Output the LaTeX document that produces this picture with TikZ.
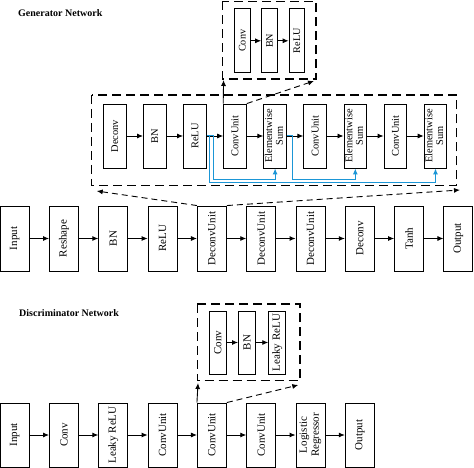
\documentclass[tikz,border=0pt]{standalone}
\usepackage{fontspec}
\setmainfont{Liberation Serif}
\usepackage{graphicx}
\usetikzlibrary{arrows.meta,calc}
\definecolor{skyblue}{RGB}{27,150,214}
\newcommand{\rt}[1]{\rotatebox{90}{#1}}
\newcommand{\rtt}[3][0pt]{\rotatebox{90}{\begin{tabular}{@{}c@{}}#2\\[#1]#3\end{tabular}}}
\tikzset{
  bx/.style={draw, line width=0.9pt, inner sep=0pt, font=\fontsize{11}{12}\selectfont},
  mainbx/.style={bx, minimum width=29pt, minimum height=65pt},
  midbx/.style={bx, minimum width=22.7pt, minimum height=64pt, font=\fontsize{10.4}{11.5}\selectfont},
  topbx/.style={bx, minimum width=15.7pt, minimum height=63.7pt, font=\fontsize{10.2}{11}\selectfont},
  discbx/.style={bx, minimum width=29pt, minimum height=64pt},
  dbx/.style={bx, minimum width=17pt, minimum height=63pt, font=\fontsize{11}{12}\selectfont},
  arr/.style={-{Latex[length=6pt,width=5pt]}, line width=0.9pt},
  darr/.style={-{Latex[length=6pt,width=5pt]}, line width=0.9pt, dash pattern=on 6pt off 4pt},
  dashbox/.style={line width=1.1pt, dash pattern=on 9pt off 5pt},
  bl/.style={draw=skyblue, line width=1pt, -{Latex[length=6pt,width=5pt]}},
  ttl/.style={font=\fontsize{10}{12}\selectfont\bfseries, inner sep=0pt, anchor=west}
}
\begin{document}
\begin{tikzpicture}[x=1pt,y=-1pt]
\useasboundingbox[fill=white] (0,0) rectangle (474,468);

% titles
\node[ttl] (gt) at (18,13) {Generator Network};
\node[ttl] (dt) at (19,313) {Discriminator Network};

% ===== Generator main row =====
\foreach \i/\t [count=\k from 0] in {g1/Input,g2/Reshape,g3/BN,g4/ReLU,g5/DeconvUnit,g6/DeconvUnit,g7/DeconvUnit,g8/Deconv,g9/Tanh,g10/Output}{
  \node[mainbx] (\i) at ({14.7+49.3*\k},238.5) {\rt{\t}};
}
\foreach \a/\b in {g1/g2,g2/g3,g3/g4,g4/g5,g5/g6,g6/g7,g7/g8,g8/g9,g9/g10}{
  \draw[arr] (\a.east) -- (\b.west);
}

% ===== Generator middle (DeconvUnit expansion) =====
\draw[dashbox] (91.7,95) rectangle (456.7,185.7);
\node[midbx] (m1) at (114.7,136) {\rt{Deconv}};
\node[midbx] (m2) at (154.8,136) {\rt{BN}};
\node[midbx] (m3) at (194.9,136) {\rt{ReLU}};
\node[midbx] (m4) at (235.0,136) {\rt{ConvUnit}};
\node[midbx] (m5) at (275.1,136) {\rtt[-0.8pt]{Elementwise}{Sum}};
\node[midbx] (m6) at (315.2,136) {\rt{ConvUnit}};
\node[midbx] (m7) at (355.3,136) {\rtt[-0.8pt]{Elementwise}{Sum}};
\node[midbx] (m8) at (395.4,136) {\rt{ConvUnit}};
\node[midbx] (m9) at (435.5,136) {\rtt[-0.8pt]{Elementwise}{Sum}};
\foreach \a/\b in {m1/m2,m2/m3,m3/m4,m4/m5,m5/m6,m6/m7,m7/m8,m8/m9}{
  \draw[arr] (\a.east) -- (\b.west);
}
% skip connections
\draw[bl] (m3.east) -| ++(3.2,46) -| (m9.south);
\draw[bl] (m3.east) -| ++(6.6,43.3) -| (m5.south);
\draw[bl] (m5.east) -| ++(5.3,43.3) -| (m7.south);

% expansion arrows main -> middle
\coordinate (mbl) at (96.7,191);
\coordinate (mbr) at (460,190);
\draw[darr] (g5.north west) -- (mbl);
\draw[darr] (g5.north east) -- (mbr);

% ===== Generator top (ConvUnit expansion) =====
\draw[dashbox] (222.7,1.2) rectangle (316,79);
\node[topbx] (t1) at (242.2,40.8) {\rt{Conv}};
\node[topbx] (t2) at (269.5,40.8) {\rt{BN}};
\node[topbx] (t3) at (296.9,40.8) {\rt{ReLU}};
\draw[arr] (t1.east) -- (t2.west);
\draw[arr] (t2.east) -- (t3.west);
\coordinate (tbl) at (223.6,80);
\coordinate (tbr) at (314,81);
\draw[arr] (m4.north west) -- (tbl);
\draw[darr] (m4.north east) -- (tbr);

% ===== Discriminator main row =====
\node[discbx] (d1) at (14.7,435) {\rt{Input}};
\node[discbx] (d2) at (64.0,435) {\rt{Conv}};
\node[discbx] (d3) at (113.3,435) {\rt{Leaky ReLU}};
\node[discbx] (d4) at (162.6,435) {\rt{ConvUnit}};
\node[discbx] (d5) at (211.9,435) {\rt{ConvUnit}};
\node[discbx] (d6) at (261.2,435) {\rt{ConvUnit}};
\node[discbx] (d7) at (310.5,435) {\rtt[0pt]{Logistic}{Regressor}};
\node[discbx] (d8) at (359.8,435) {\rt{Output}};
\foreach \a/\b in {d1/d2,d2/d3,d3/d4,d4/d5,d5/d6,d6/d7,d7/d8}{
  \draw[arr] (\a.east) -- (\b.west);
}

% ===== Discriminator ConvUnit expansion =====
\draw[dashbox] (197.3,304) rectangle (300,380.7);
\node[dbx] (e1) at (217.7,342.5) {\rt{Conv}};
\node[dbx] (e2) at (247.0,342.5) {\rt{BN}};
\node[dbx] (e3) at (277.2,342.5) {\rt{Leaky ReLU}};
\draw[arr] (e1.east) -- (e2.west);
\draw[arr] (e2.east) -- (e3.west);
\coordinate (ebl) at (198,383);
\coordinate (ebr) at (298.3,385);
\draw[arr] (d5.north west) -- (ebl);
\draw[darr] (d5.north east) -- (ebr);
\end{tikzpicture}
\end{document}
